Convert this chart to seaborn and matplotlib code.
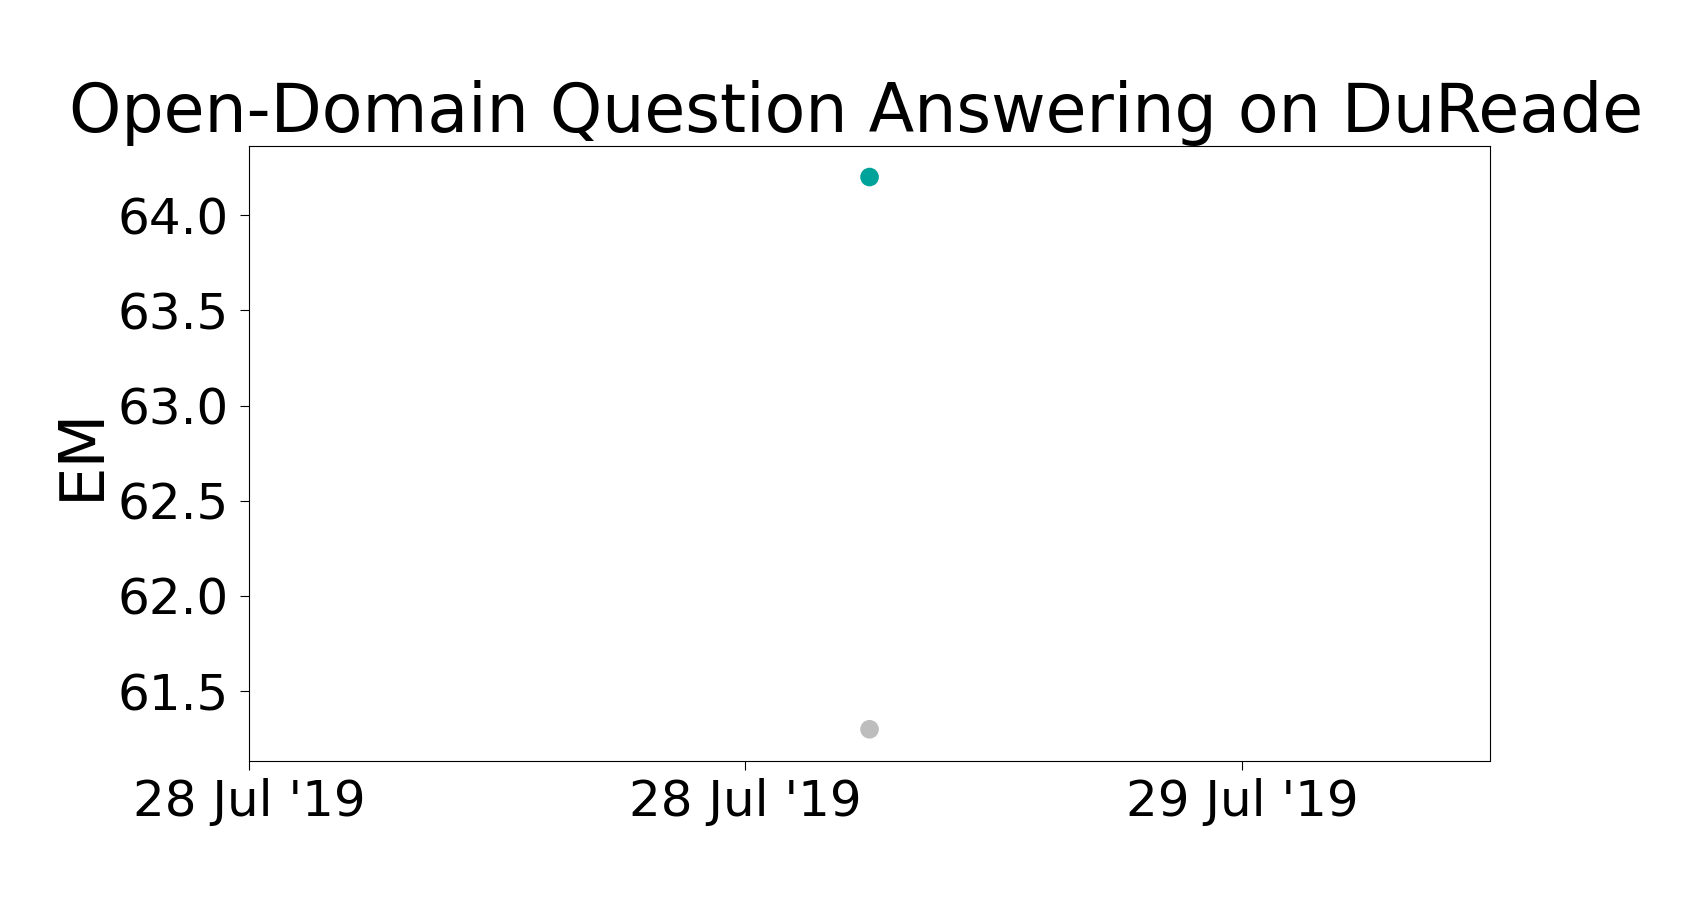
import pandas as pd
import matplotlib.pyplot as plt
import matplotlib.dates as mdates
import seaborn as sns

dates = ["2019-07-28 15:00", "2019-07-28 15:00"]
em_scores = [64.2, 61.3]
models = ["best", "other"]
colors = {"best": "#00A39A", "other": "#BDBDBD"}

df = pd.DataFrame({
    'date': pd.to_datetime(dates),
    'EM': em_scores,
    'model': models
})

plt.rcParams['font.family'] = ['DejaVu Sans']
fig, ax = plt.subplots(figsize=(17, 9), dpi=100)
fig.subplots_adjust(left=0.1465, right=0.8765, top=0.838, bottom=0.155)

sns.scatterplot(x='date', y='EM', data=df, hue='model', palette=colors,
                s=180, edgecolor='none', legend=False, ax=ax)

ax.set_xlim(pd.Timestamp("2019-07-28 00:00"), pd.Timestamp("2019-07-29 06:00"))
ax.set_ylim(61.136, 64.364)
ax.xaxis.set_major_locator(mdates.HourLocator(byhour=[0, 12]))
ax.xaxis.set_major_formatter(mdates.DateFormatter("%d %b '%y"))
ax.set_yticks([61.5, 62.0, 62.5, 63.0, 63.5, 64.0])
ax.tick_params(axis='x', labelsize=36, length=6.5, pad=6)
ax.tick_params(axis='y', labelsize=36, length=6.5, pad=8)
ax.set_xlabel('')
ax.set_ylabel('EM', fontsize=45)
ax.set_title('Open-Domain Question Answering on DuReade', fontsize=48, x=0.489, pad=8)

plt.savefig('out.png')
